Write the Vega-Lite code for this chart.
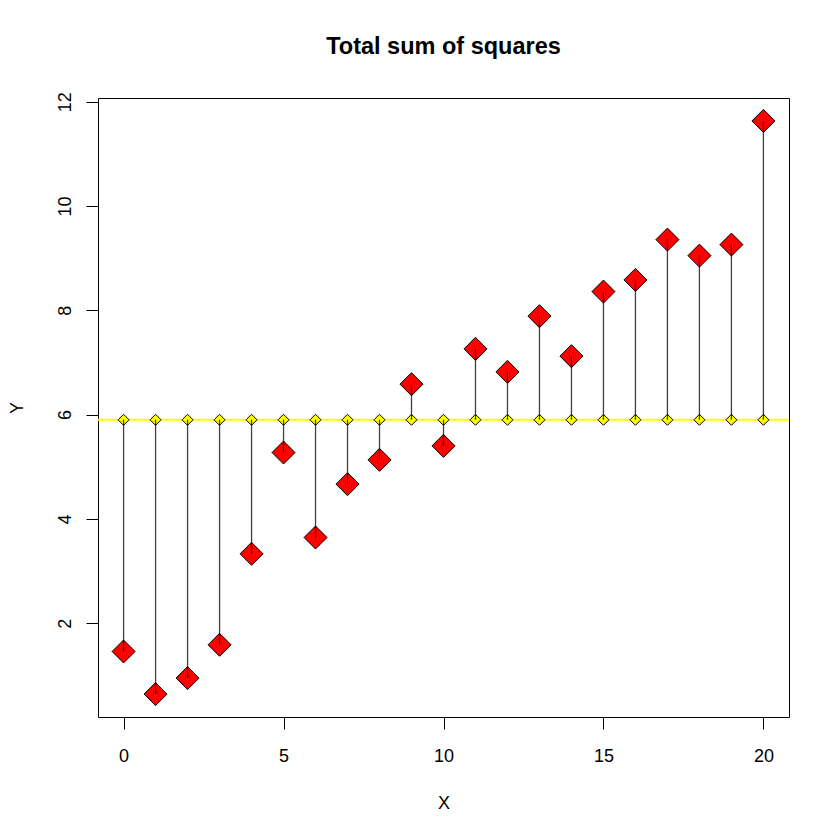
{
  "$schema": "https://vega.github.io/schema/vega-lite/v6.json",
  "width": 691,
  "height": 619,
  "autosize": {"type": "none"},
  "padding": {"left": 98, "top": 98, "right": 51, "bottom": 123},
  "background": "white",
  "title": {
    "text": "Total sum of squares",
    "anchor": "middle",
    "frame": "group",
    "font": "Liberation Sans",
    "fontSize": 23.5,
    "fontWeight": "bold",
    "color": "black",
    "baseline": "alphabetic",
    "offset": 14
  },
  "config": {
    "view": {"stroke": "black", "strokeWidth": 1, "fill": "white"},
    "axis": {
      "domain": false,
      "grid": false,
      "tickColor": "black",
      "tickSize": 12,
      "tickWidth": 1,
      "labelFont": "Liberation Sans",
      "labelFontSize": 18,
      "labelColor": "black",
      "titleFont": "Liberation Sans",
      "titleFontSize": 18,
      "titleFontWeight": "normal",
      "titleColor": "black"
    }
  },
  "data": {
    "values": [
      {"x": 0, "y": 1.458},
      {"x": 1, "y": 0.641},
      {"x": 2, "y": 0.948},
      {"x": 3, "y": 1.586},
      {"x": 4, "y": 3.33},
      {"x": 5, "y": 5.272},
      {"x": 6, "y": 3.643},
      {"x": 7, "y": 4.666},
      {"x": 8, "y": 5.132},
      {"x": 9, "y": 6.583},
      {"x": 10, "y": 5.4},
      {"x": 11, "y": 7.26},
      {"x": 12, "y": 6.819},
      {"x": 13, "y": 7.887},
      {"x": 14, "y": 7.12},
      {"x": 15, "y": 8.358},
      {"x": 16, "y": 8.582},
      {"x": 17, "y": 9.355},
      {"x": 18, "y": 9.048},
      {"x": 19, "y": 9.259},
      {"x": 20, "y": 11.63}
    ]
  },
  "layer": [
    {
      "mark": {"type": "point", "shape": "diamond", "size": 529, "filled": true, "fill": "#FF0000", "stroke": "black", "strokeWidth": 1, "opacity": 1},
      "encoding": {
        "x": {
          "field": "x", "type": "quantitative", "title": "X",
          "scale": {"domain": [-0.8, 20.8], "nice": false, "zero": false},
          "axis": {
            "values": [0, 5, 10, 15, 20],
            "labelBaseline": "alphabetic",
            "labelPadding": 32,
            "titleX": 345.5,
            "titleY": 91,
            "titleBaseline": "alphabetic",
            "titleAlign": "center"
          }
        },
        "y": {
          "field": "y", "type": "quantitative", "title": "Y",
          "scale": {"domain": [0.2014, 12.07], "nice": false, "zero": false},
          "axis": {
            "values": [2, 4, 6, 8, 10, 12],
            "labelAngle": -90,
            "labelAlign": "center",
            "labelBaseline": "alphabetic",
            "labelPadding": 16,
            "titleAngle": -90,
            "titleX": -76,
            "titleY": 309.5,
            "titleAlign": "center",
            "titleBaseline": "alphabetic"
          }
        }
      }
    },
    {
      "data": {"values": [{"mean": 5.9}]},
      "mark": {"type": "rule", "color": "#FFFF00", "strokeWidth": 2},
      "encoding": {
        "y": {"field": "mean", "type": "quantitative", "title": "Y"}
      }
    },
    {
      "mark": {"type": "point", "shape": "diamond", "size": 121, "filled": true, "fill": "#FFFF00", "stroke": "black", "strokeWidth": 1, "opacity": 1},
      "encoding": {
        "x": {"field": "x", "type": "quantitative", "title": "X"},
        "y": {"datum": 5.9, "type": "quantitative", "title": "Y"}
      }
    },
    {
      "mark": {"type": "rule", "color": "black", "strokeWidth": 1.3, "opacity": 0.75},
      "encoding": {
        "x": {"field": "x", "type": "quantitative", "title": "X"},
        "y": {"field": "y", "type": "quantitative", "title": "Y"},
        "y2": {"datum": 5.9}
      }
    }
  ]
}
